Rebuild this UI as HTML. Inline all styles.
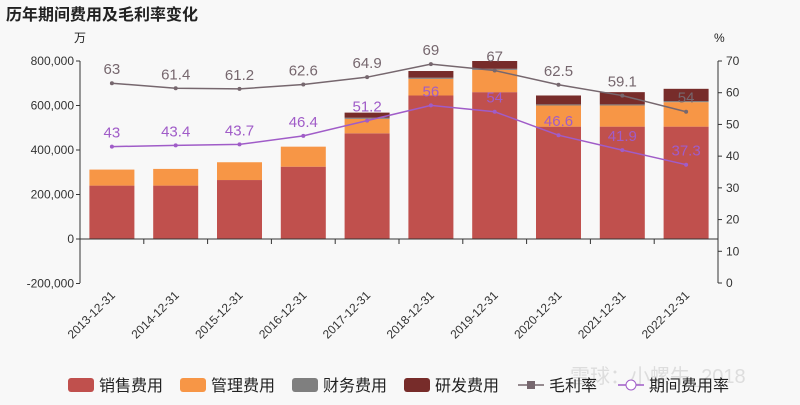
<!DOCTYPE html>
<html><head><meta charset="utf-8">
<style>
body{margin:0;background:#f8f8f8;font-family:"Liberation Sans","Noto Sans CJK SC",sans-serif;}
svg text{font-family:"Liberation Sans","Noto Sans CJK SC",sans-serif;}
</style></head>
<body>
<svg id="chart" width="800" height="400">
<rect width="800" height="400" fill="#f8f8f8"/>
<text x="6" y="20" font-size="16" font-weight="bold" fill="#222">历年期间费用及毛利率变化</text>
<text x="74" y="42" font-size="12" fill="#222">万</text>
<text x="714" y="42" font-size="12" fill="#222">%</text>
<g id="grid"></g><g id="bars"></g><g id="lines"></g><g id="axes"></g>
<text x="570" y="383" font-size="20" fill="#ddd">雪球：小螺牛_2018</text>
<g id="legend"></g>
</svg>
<script>
const categories=["2013-12-31","2014-12-31","2015-12-31","2016-12-31","2017-12-31","2018-12-31","2019-12-31","2020-12-31","2021-12-31","2022-12-31"];
const sales=[240000,240000,265000,325000,475000,645000,660000,505000,505000,505000];
const mgmt=[72000,75000,80000,90000,65000,75000,100000,95000,95000,110000];
const finance=[0,0,0,0,5000,5000,5000,5000,5000,5000];
const rnd=[0,0,0,0,23000,30000,35000,40000,55000,55000];
const grossMargin=[63,61.4,61.2,62.6,64.9,69,67,62.5,59.1,54];
const expenseRate=[43,43.4,43.7,46.4,51.2,56,54,46.6,41.9,37.3];
const leftTicks=[-200000,0,200000,400000,600000,800000];
const rightTicks=[0,10,20,30,40,50,60,70];
const X0=80,X1=718,YT=61,YB=283;
const yL=v=>239-(v/800000)*178;
const yR=v=>YB-(v/70)*(YB-YT);
const step=(X1-X0)/categories.length;
const xC=i=>X0+step*(i+0.5);
const NS="http://www.w3.org/2000/svg";
function mk(tag,attrs,parent){const e=document.createElementNS(NS,tag);for(const k in attrs)e.setAttribute(k,attrs[k]);document.getElementById(parent).appendChild(e);return e;}
// axes
leftTicks.forEach(t=>{const y=yL(t);
 let tx=mk('text',{x:X0-6,y:y+4,'font-size':12,'text-anchor':'end',fill:'#333'},'axes');tx.textContent=t.toLocaleString('en-US');
 
 
 mk('line',{x1:X0-4,x2:X0,y1:y,y2:y,stroke:'#333'},'axes');});
rightTicks.forEach(t=>{const y=yR(t);
 let tx=mk('text',{x:X1+8,y:y+4,'font-size':12,fill:'#333'},'axes');tx.textContent=t;
 
 
 mk('line',{x1:X1,x2:X1+4,y1:y,y2:y,stroke:'#333'},'axes');});
mk('line',{x1:X0,x2:X0,y1:YT,y2:YB,stroke:'#333'},'axes');
mk('line',{x1:X1,x2:X1,y1:YT,y2:YB,stroke:'#333'},'axes');
mk('line',{x1:X0,x2:X1,y1:yL(0),y2:yL(0),stroke:'#333'},'axes');
categories.forEach((c,i)=>{const x=xC(i);
 mk('line',{x1:X0+step*(i+1),x2:X0+step*(i+1),y1:yL(0),y2:yL(0)+5,stroke:'#333'},'axes');
 let tx=mk('text',{x:x+4,y:296,'font-size':12,'text-anchor':'end',fill:'#333',transform:`rotate(-45 ${x+4} 296)`},'axes');tx.textContent=c;
 
 });
mk('line',{x1:X0,x2:X0,y1:yL(0),y2:yL(0)+5,stroke:'#333'},'axes');
// bars
const series=[[sales,'#c0504d','bar-sales'],[mgmt,'#f79646','bar-management'],[finance,'#7f7f7f','bar-finance'],[rnd,'#772c2a','bar-rnd']];
const bw=45;
categories.forEach((c,i)=>{let base=0;series.forEach(([arr,col,nm])=>{const v=arr[i];if(v<=0)return;
 const r=mk('rect',{x:xC(i)-bw/2,y:yL(base+v),width:bw,height:yL(base)-yL(base+v),fill:col},'bars');
 
 
 base+=v;});});
// lines
function line(arr,col,nm){const pts=arr.map((v,i)=>xC(i)+','+yR(v)).join(' ');
 const p=mk('polyline',{points:pts,fill:'none',stroke:col,'stroke-width':1.5},'lines');
 
 
 arr.forEach((v,i)=>{const m=mk('circle',{cx:xC(i),cy:yR(v),r:2,fill:col},'lines');
 
 
 const t=mk('text',{x:xC(i),y:yR(v)-9,'font-size':15,'text-anchor':'middle',fill:col},'lines');t.textContent=v;
 
 });}
line(grossMargin,'#76676e','gross-margin-line');
line(expenseRate,'#a05cc8','expense-rate-line');
// legend
const leg=[['销售费用','#c0504d','r'],['管理费用','#f79646','r'],['财务费用','#7f7f7f','r'],['研发费用','#772c2a','r'],['毛利率','#76676e','l'],['期间费用率','#a05cc8','c']];
const lx=[68,180,292,404,518,618];
leg.forEach(([n,col,t],i)=>{const x=lx[i];let sym;
 if(t==='r')sym=mk('rect',{x:x,y:378,width:26,height:14,rx:3,fill:col},'legend');
 else{mk('line',{x1:x,x2:x+26,y1:385,y2:385,stroke:col,'stroke-width':1.5},'legend');
  sym=t==='l'?mk('rect',{x:x+9,y:381,width:8,height:8,fill:col},'legend'):mk('circle',{cx:x+13,cy:385,r:5,fill:'#fff',stroke:col},'legend');}
 
 
 const tx=mk('text',{x:x+31,y:391,'font-size':16,fill:'#222'},'legend');tx.textContent=n;
 
 });
</script>
</body></html>
